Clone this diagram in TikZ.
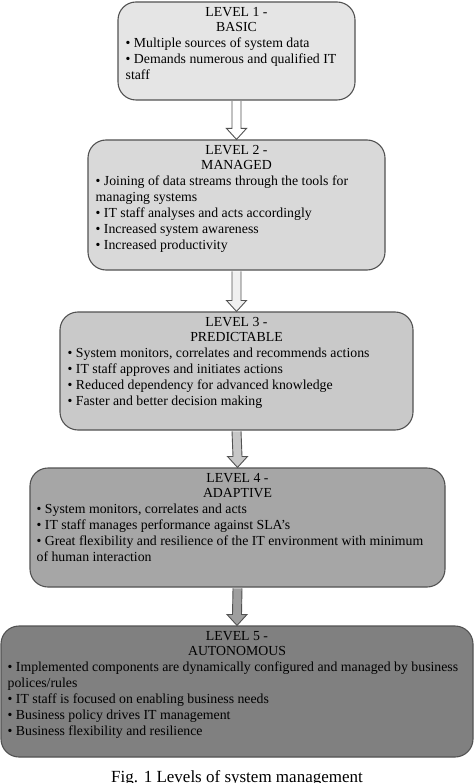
\documentclass[tikz,border=0pt]{standalone}
\usepackage{fontspec}
\setmainfont{Liberation Serif}
\usetikzlibrary{positioning,calc}
\tikzset{
  levelbox/.style={draw=black!68, line width=1.1pt, rounded corners=18pt},
  headtext/.style={align=center, inner sep=0pt, font=\fontsize{13.8}{15.5}\selectfont},
  bodytext/.style={align=left, inner sep=0pt, font=\fontsize{13.8}{16}\selectfont},
  blockarrow/.style={draw=black!68, line width=0.9pt, line join=miter},
  captext/.style={inner sep=0pt, font=\fontsize{17}{20}\selectfont}
}

\begin{document}
\begin{tikzpicture}[x=1pt, y=1pt]
  \useasboundingbox (0,0) rectangle (474,-783);
  % level boxes
  \node[levelbox, fill=black!10, minimum width=237, minimum height=98] (lvl1) at (236.5,-51) {};
  \node[levelbox, fill=black!15, minimum width=297, minimum height=130] (lvl2) at (236.5,-205) {};
  \node[levelbox, fill=black!21, minimum width=353, minimum height=118] (lvl3) at (236.5,-371) {};
  \node[levelbox, fill=black!35, minimum width=415, minimum height=119] (lvl4) at (237.5,-527.5) {};
  \node[levelbox, fill=black!50, minimum width=472, minimum height=131] (lvl5) at (237,-691.5) {};

  % headings
  \node[headtext, below=5.5pt of lvl1.north] (h1) {LEVEL 1 -\\BASIC};
  \node[headtext, below=5.5pt of lvl2.north] (h2) {LEVEL 2 -\\MANAGED};
  \node[headtext, below=5.5pt of lvl3.north] (h3) {LEVEL 3 -\\PREDICTABLE};
  \node[headtext, below=5.5pt of lvl4.north] (h4) {LEVEL 4 -\\ADAPTIVE};
  \node[headtext, below=5.5pt of lvl5.north] (h5) {LEVEL 5 -\\AUTONOMOUS};

  % bullet lists
  \node[bodytext, below right=36pt and 8pt of lvl1.north west] (b1) {• Multiple sources of system data\\• Demands numerous and qualified IT\\staff};
  \node[bodytext, below right=36pt and 8pt of lvl2.north west] (b2) {• Joining of data streams through the tools for\\managing systems\\• IT staff analyses and acts accordingly\\• Increased system awareness\\• Increased productivity};
  \node[bodytext, below right=36pt and 8pt of lvl3.north west] (b3) {• System monitors, correlates and recommends actions\\• IT staff approves and initiates actions\\• Reduced dependency for advanced knowledge\\• Faster and better decision making};
  \node[bodytext, below right=36pt and 7pt of lvl4.north west] (b4) {• System monitors, correlates and acts\\• IT staff manages performance against SLA's\\• Great flexibility and resilience of the IT environment with minimum\\of human interaction};
  \node[bodytext, below right=36pt and 7pt of lvl5.north west] (b5) {• Implemented components are dynamically configured and managed by business\\polices/rules\\• IT staff is focused on enabling business needs\\• Business policy drives IT management\\• Business flexibility and resilience};

  % block arrows between levels
  \foreach \a/\b/\c in {lvl1/lvl2/white, lvl2/lvl3/black!6, lvl3/lvl4/black!22, lvl4/lvl5/black!38}
    \draw[blockarrow, fill=\c] ($(\a.south)+(-4.5,-0.7)$) -- ($(\b.north)+(-4.5,11)$) -- ++(-5.5,0)
      -- (\b.north) -- ($(\b.north)+(10,11)$) -- ++(-5.5,0) -- ($(\a.south)+(4.5,-0.7)$);

  \node[captext, anchor=base] (cap) at (237,-782) {Fig. 1 Levels of system management};
\end{tikzpicture}
\end{document}
